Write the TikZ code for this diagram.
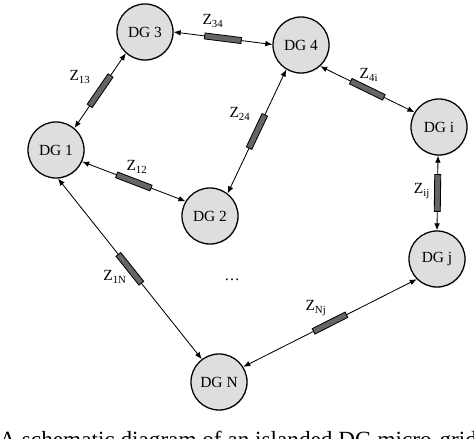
\documentclass[tikz,border=0pt]{standalone}
\usepackage{fontspec}
\setmainfont{Liberation Serif}
\usetikzlibrary{arrows.meta,shadows}

\begin{document}
\begin{tikzpicture}[x=0.025cm, y=-0.025cm, >={Latex[length=5pt,width=4pt]}, line width=0.6pt]
\useasboundingbox (0,0) rectangle (474,439);
\clip (0,0) rectangle (474,439);
\tikzstyle{every node} = [circle, draw, line width=0.9pt, fill=black!13, minimum size=1.4cm, inner sep=0pt, font=\fontsize{11}{13}\selectfont, drop shadow={shadow xshift=0.6pt, shadow yshift=-0.6pt, opacity=0.25}]
\node (3) at (145,32) {DG 3};
\node (4) at (301,45) {DG 4};
\node (1) at (56,150) {DG 1};
\node (2) at (210,216) {DG 2};
\node (i) at (439,127) {DG i};
\node (j) at (437,259) {DG j};
\node (N) at (219,382) {DG N};
\tikzstyle{every node} = []
\tikzstyle{zbox} = [rectangle, draw, fill=black!60, sloped, minimum width=0.92cm, minimum height=0.15cm, inner sep=0pt, line width=0.6pt]
\draw[<->] (1.50) -- node[zbox] (b13) {} (3.-132);
\draw[<->] (3.0) -- node[zbox] (b34) {} (4.179);
\draw[<->] (2.52) -- node[zbox] (b24) {} (4.-121);
\draw[<->] (4.-48) -- node[zbox] (b4i) {} (i.149);
\draw[<->] (i.-92) -- node[zbox] (bij) {} (j.90);
\draw[<->] (1.-24) -- node[zbox] (b12) {} (2.149);
\draw[<->] (1.-86) -- node[zbox] (b1N) {} (N.127);
\draw[<->] (N.32) -- node[zbox] (bNj) {} (j.-135);
% impedance labels
\tikzstyle{every node} = [font=\fontsize{11}{13}\selectfont]
\node (z13) at (80,77) {Z\textsubscript{13}};
\node (z34) at (213,21) {Z\textsubscript{34}};
\node (z24) at (240,114) {Z\textsubscript{24}};
\node (z4i) at (369,75) {Z\textsubscript{4i}};
\node (zij) at (422,191) {Z\textsubscript{ij}};
\node (z12) at (137,167) {Z\textsubscript{12}};
\node (z1N) at (115,277) {Z\textsubscript{1N}};
\node (zNj) at (316,308) {Z\textsubscript{Nj}};
\node (dots) at (232,280) {\ldots};
\node[anchor=base west, inner sep=0pt, font=\fontsize{16.5}{19}\selectfont] (caption) at (-1,447) {A schematic diagram of an islanded DG micro-grid};
\end{tikzpicture}
\end{document}
